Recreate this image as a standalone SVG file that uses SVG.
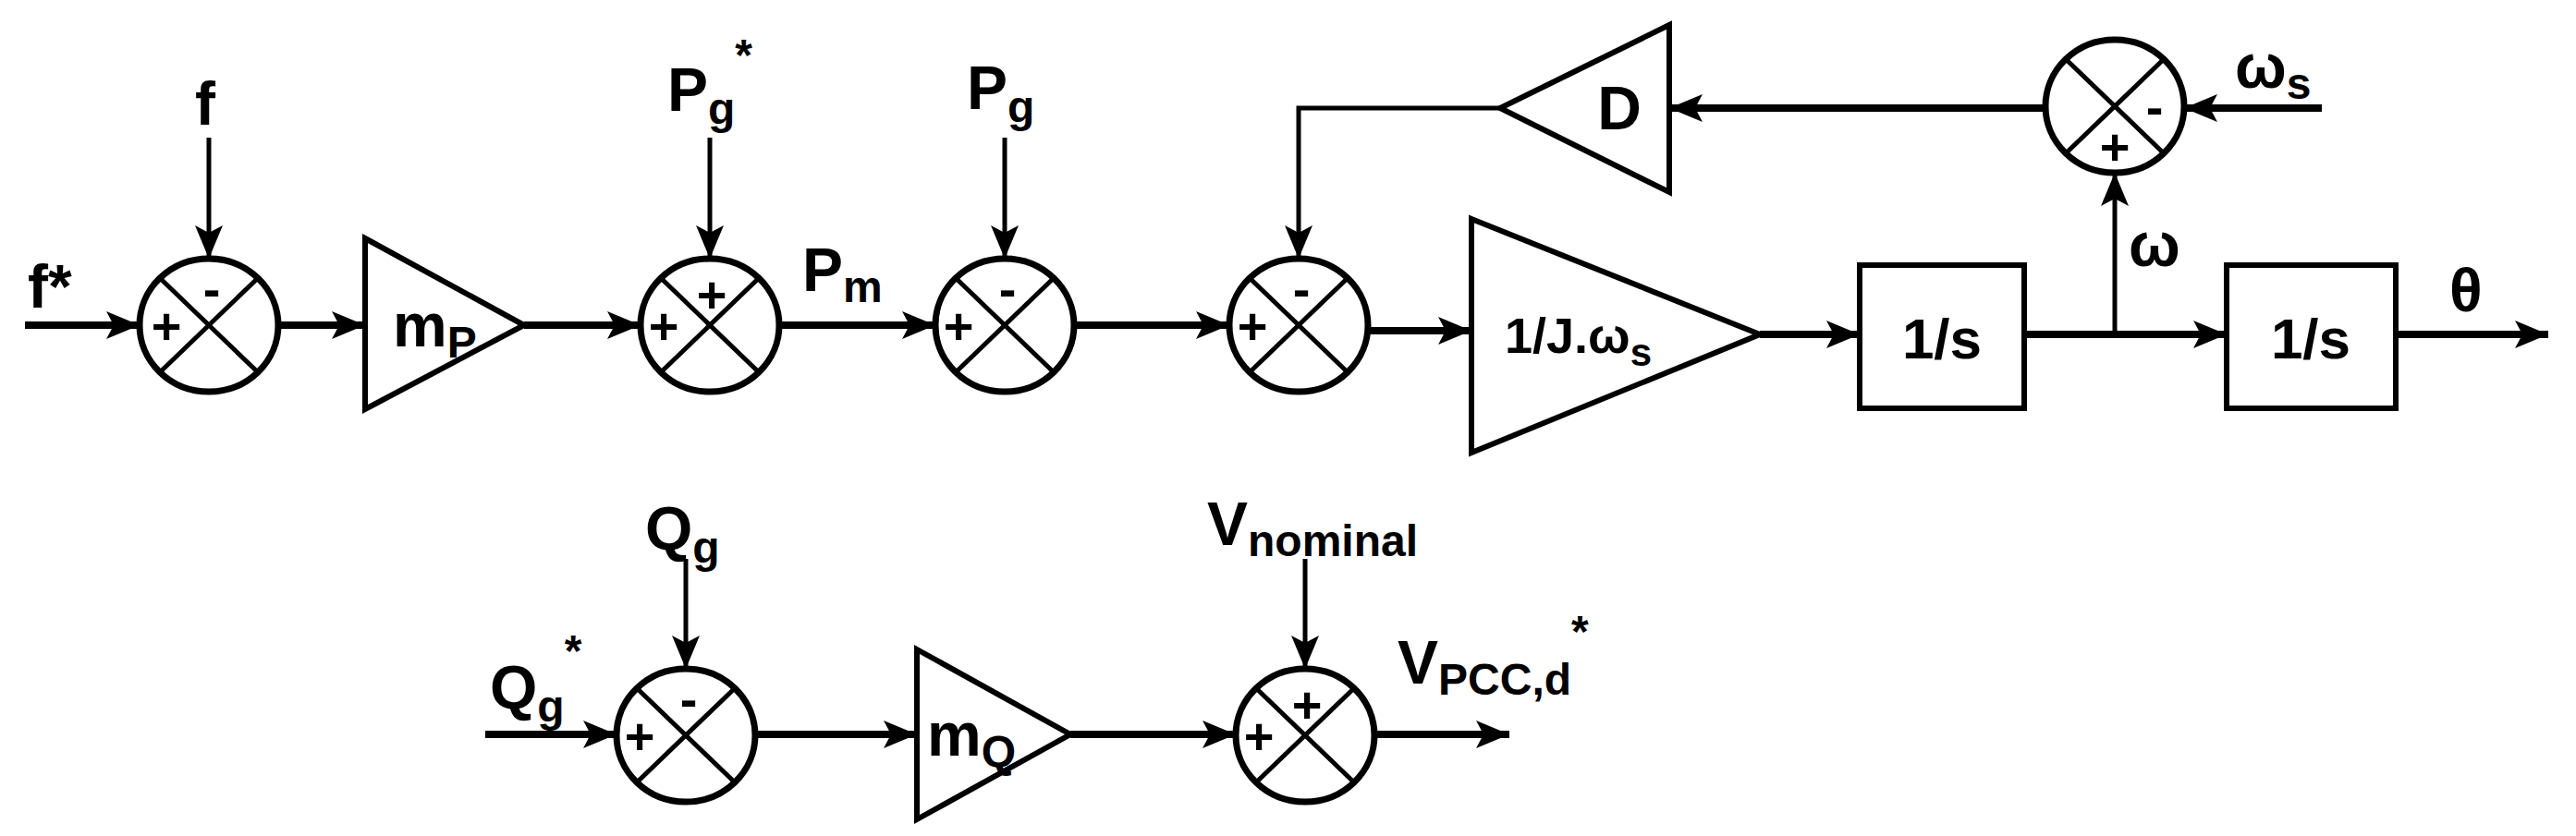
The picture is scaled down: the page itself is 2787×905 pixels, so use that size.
<svg xmlns="http://www.w3.org/2000/svg" xmlns:xlink="http://www.w3.org/1999/xlink" width="2787" height="905" viewBox="0 0 2787 905">
<style>
.ln{fill:none;stroke:#000;stroke-width:8}
.lt{fill:none;stroke:#000;stroke-width:5}
.sh{fill:#fff;stroke:#000;stroke-width:6}
.t{font-family:"Liberation Sans",Arial,sans-serif;font-weight:bold;fill:#000}
.lb{font-size:66px}
.sb{font-size:48px}
.sg{font-size:56px;text-anchor:middle}
</style>
<defs>
<marker id="ar" markerUnits="userSpaceOnUse" markerWidth="40" markerHeight="34" refX="36" refY="15" orient="auto">
<path d="M0,0 L36,15 L0,30 L8,15 z" fill="#000"/>
</marker>
<g id="sum">
<ellipse cx="0" cy="0" rx="75" ry="72" fill="#fff" stroke="#000" stroke-width="7"/>
<path d="M-53,-51 L53,51 M53,-51 L-53,51" stroke="#000" stroke-width="5"/>
</g>
</defs>
<rect width="2787" height="905" fill="#fff"/>
<g id="connectors">
<line class="ln" x1="27" y1="352" x2="151" y2="352" marker-end="url(#ar)"/>
<line class="lt" x1="226" y1="149" x2="226" y2="280" marker-end="url(#ar)"/>
<line class="ln" x1="301" y1="352" x2="395" y2="352" marker-end="url(#ar)"/>
<line class="ln" x1="567" y1="352" x2="693" y2="352" marker-end="url(#ar)"/>
<line class="lt" x1="768" y1="149" x2="768" y2="280" marker-end="url(#ar)"/>
<line class="ln" x1="843" y1="352" x2="1012" y2="352" marker-end="url(#ar)"/>
<line class="lt" x1="1087" y1="149" x2="1087" y2="280" marker-end="url(#ar)"/>
<line class="ln" x1="1162" y1="352" x2="1330" y2="352" marker-end="url(#ar)"/>
<polyline class="lt" points="1623,117 1405,117 1405,280" marker-end="url(#ar)"/>
<line class="ln" x1="1480" y1="358" x2="1592" y2="358" marker-end="url(#ar)"/>
<line class="ln" x1="1904" y1="362" x2="2012" y2="362" marker-end="url(#ar)"/>
<line class="ln" x1="2190" y1="362" x2="2409" y2="362" marker-end="url(#ar)"/>
<line class="lt" x1="2288" y1="362" x2="2288" y2="187" marker-end="url(#ar)"/>
<line class="ln" x1="2213" y1="117" x2="1806" y2="117" marker-end="url(#ar)"/>
<line class="ln" x1="2512" y1="117" x2="2363" y2="117" marker-end="url(#ar)"/>
<line class="ln" x1="2592" y1="362" x2="2757" y2="362" marker-end="url(#ar)"/>
<line class="ln" x1="525" y1="795" x2="667" y2="795" marker-end="url(#ar)"/>
<line class="lt" x1="742" y1="605" x2="742" y2="724" marker-end="url(#ar)"/>
<line class="ln" x1="817" y1="795" x2="992" y2="795" marker-end="url(#ar)"/>
<line class="ln" x1="1158" y1="795" x2="1337" y2="795" marker-end="url(#ar)"/>
<line class="lt" x1="1412" y1="605" x2="1412" y2="724" marker-end="url(#ar)"/>
<line class="ln" x1="1487" y1="795" x2="1633" y2="795" marker-end="url(#ar)"/>
</g>
<g id="sum1"><use xlink:href="#sum" x="226" y="352"/><text class="t sg" x="229" y="332">-</text><text class="t sg" x="180" y="372">+</text></g>
<g id="gainP"><polygon class="sh" points="395,258 567,352 395,443"/><text class="t lb" x="425" y="375">m<tspan class="sb" dy="12">P</tspan></text></g>
<g id="sum2"><use xlink:href="#sum" x="768" y="352"/><text class="t sg" x="770" y="338">+</text><text class="t sg" x="718" y="372">+</text></g>
<g id="sum3"><use xlink:href="#sum" x="1087" y="352"/><text class="t sg" x="1090" y="332">-</text><text class="t sg" x="1037" y="372">+</text></g>
<g id="sum4"><use xlink:href="#sum" x="1405" y="352"/><text class="t sg" x="1408" y="332">-</text><text class="t sg" x="1355" y="372">+</text></g>
<g id="gainJ"><polygon class="sh" points="1592,237 1904,362 1592,490"/><text class="t" font-size="54" x="1628" y="382">1/J.ω<tspan font-size="42" dy="14">s</tspan></text></g>
<g id="int1"><rect class="sh" x="2012" y="287" width="178" height="155"/><text class="t" x="2101" y="388" text-anchor="middle" font-size="62">1/s</text></g>
<g id="int2"><rect class="sh" x="2409" y="287" width="183" height="155"/><text class="t" x="2500" y="388" text-anchor="middle" font-size="62">1/s</text></g>
<g id="gainD"><polygon class="sh" points="1806,27 1623,117 1806,208"/><text class="t lb" x="1752" y="140" text-anchor="middle">D</text></g>
<g id="sum5"><use xlink:href="#sum" x="2288" y="115"/><text class="t sg" x="2331" y="135">-</text><text class="t sg" x="2288" y="178">+</text></g>
<g id="sum6"><use xlink:href="#sum" x="742" y="796"/><text class="t sg" x="745" y="776">-</text><text class="t sg" x="692" y="816">+</text></g>
<g id="gainQ"><polygon class="sh" points="992,703 1158,795 992,887"/><text class="t lb" x="1003" y="818">m<tspan class="sb" dy="12">Q</tspan></text></g>
<g id="sum7"><use xlink:href="#sum" x="1412" y="796"/><text class="t sg" x="1414" y="782">+</text><text class="t sg" x="1362" y="816">+</text></g>
<g id="labels">
<text class="t lb" x="30" y="333">f*</text>
<text class="t lb" x="211" y="135">f</text>
<text class="t lb" x="722" y="120">P<tspan class="sb" dy="14">g</tspan><tspan class="sb" dy="-58">*</tspan></text>
<text class="t lb" x="1046" y="118">P<tspan class="sb" dy="14">g</tspan></text>
<text class="t lb" x="868" y="315">P<tspan class="sb" dy="12">m</tspan></text>
<text class="t lb" x="2418" y="95">ω<tspan class="sb" dy="12">s</tspan></text>
<text class="t lb" x="2303" y="288">ω</text>
<text class="t lb" x="2650" y="337">θ</text>
<text class="t lb" x="530" y="767">Q<tspan class="sb" dy="14">g</tspan><tspan class="sb" dy="-60">*</tspan></text>
<text class="t lb" x="698" y="595">Q<tspan class="sb" dy="14">g</tspan></text>
<text class="t lb" x="1306" y="590">V<tspan class="sb" dy="12">nominal</tspan></text>
<text class="t lb" x="1512" y="740">V<tspan class="sb" dy="12">PCC,d</tspan><tspan class="sb" dy="-52">*</tspan></text>
</g>
</svg>
